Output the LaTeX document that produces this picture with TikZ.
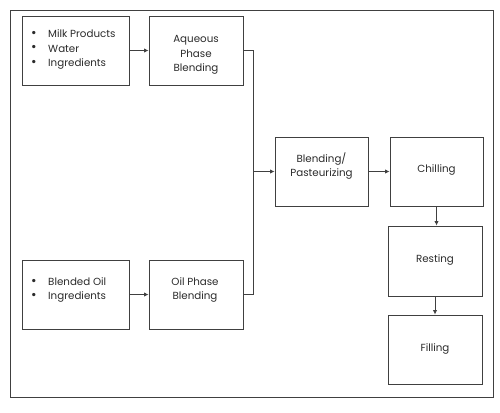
\documentclass[tikz,border=0pt]{standalone}
\usepackage{fontspec}
\setmainfont{Poppins}
\usetikzlibrary{arrows.meta}
\definecolor{linecol}{HTML}{404040}
\definecolor{txtcol}{HTML}{2A2A2A}
\newcommand{\bul}{\makebox[17pt][l]{\raisebox{0.2pt}{\scalebox{1.3}{\textbullet}}}}
\begin{document}
\begin{tikzpicture}[x=1pt,y=-1pt,
  box/.style={draw=linecol, line width=0.9pt, inner sep=0pt, minimum height=69pt},
  txt/.style={font=\fontsize{10.3}{14.5}\selectfont, text=txtcol, inner sep=0pt},
  conn/.style={draw=linecol, line width=0.9pt},
  arr/.style={conn, -{Latex[length=4.5pt,width=4.5pt]}}]
\useasboundingbox (0,0) rectangle (500,412);
\node[draw=linecol, line width=0.9pt, minimum width=483pt, minimum height=387pt, inner sep=0pt] (frame) at (251.5,203.5) {};
% boxes
\node[box, minimum width=107pt] (milk) at (76,50.5) {};
\node[box, minimum width=94pt] (aq) at (196,50.5) {};
\node[box, minimum width=107pt] (oil) at (76,294.5) {};
\node[box, minimum width=94pt] (oilph) at (196,294.5) {};
\node[box, minimum width=93pt] (blend) at (321.5,171.5) {};
\node[box, minimum width=93pt] (chill) at (436.5,171.5) {};
\node[box, minimum width=94pt, minimum height=70pt] (rest) at (435,261) {};
\node[box, minimum width=94pt] (fill) at (435,349.5) {};
% texts
\node[txt, align=left, anchor=west] (tmilk) at (31,49.5) {\bul Milk Products\\\bul Water\\\bul Ingredients};
\node[txt, align=left, anchor=west] (toil) at (31,290) {\bul Blended Oil\\\bul Ingredients};
\node[txt, align=center] (taq) at (196,55) {Aqueous\\Phase\\Blending};
\node[txt, align=center] (toilph) at (195,290) {Oil Phase\\Blending};
\node[txt, align=center] (tblend) at (321.5,166) {Blending/\\Pasteurizing};
\node[txt] (tchill) at (436.5,170) {Chilling};
\node[txt] (trest) at (435,260) {Resting};
\node[txt] (tfill) at (435,349) {Filling};
% connectors
\coordinate (j) at (253,171.5);
\draw[arr] (milk.east) -- (aq.west);
\draw[arr] (oil.east) -- (oilph.west);
\draw[conn] (aq.east) -| (j);
\draw[conn] (oilph.east) -| (j);
\draw[arr] (j) -- (blend.west);
\draw[arr] (blend.east) -- (chill.west);
\draw[arr] (chill.south) -- (chill.south |- rest.north);
\draw[arr] (rest.south) -- (fill.north);
\end{tikzpicture}
\end{document}
